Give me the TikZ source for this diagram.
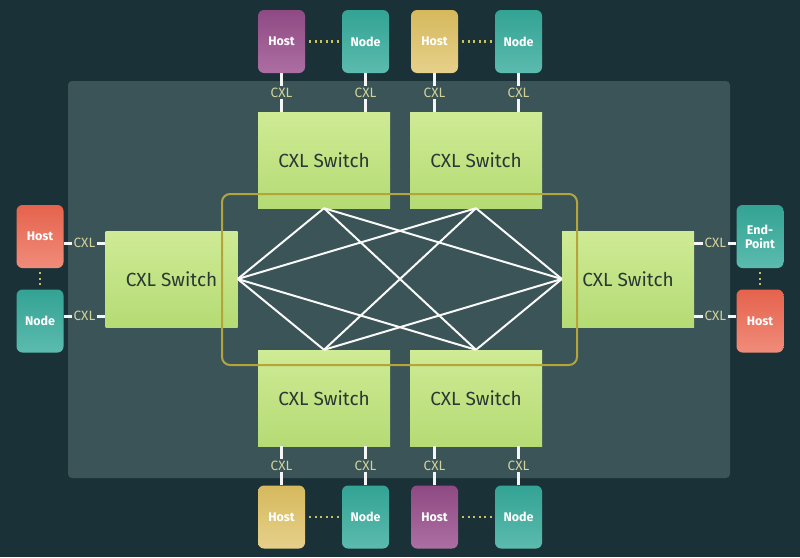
\documentclass[tikz,border=0pt]{standalone}
\usepackage{fontspec}
\setmainfont{Fira Sans}
\definecolor{bgc}{HTML}{1A3237}
\definecolor{panelc}{HTML}{3B5457}
\definecolor{swtop}{HTML}{CFEB95}
\definecolor{swbot}{HTML}{B5DB74}
\definecolor{swtext}{HTML}{2A3833}
\definecolor{framec}{HTML}{B4A43A}
\definecolor{cxltext}{HTML}{D3D29A}
\definecolor{dotc}{HTML}{C9C25E}
\definecolor{pTop}{HTML}{8F4A83}
\definecolor{pBot}{HTML}{AC6FA2}
\definecolor{tTop}{HTML}{33A394}
\definecolor{tBot}{HTML}{5BBBAE}
\definecolor{yTop}{HTML}{D6B95D}
\definecolor{yBot}{HTML}{E6D08A}
\definecolor{rTop}{HTML}{E5634D}
\definecolor{rBot}{HTML}{F08C7A}
\tikzset{
  sw/.style={rectangle, minimum width=132pt, minimum height=96pt, inner sep=0pt,
    top color=swtop, bottom color=swbot, draw=none, text=swtext,
    font=\fontsize{19}{21}\selectfont},
  hostbox/.style={rectangle, rounded corners=6pt, minimum width=47pt, minimum height=63pt,
    inner sep=0pt, text=white, align=center, font=\bfseries\fontsize{12.5}{14}\selectfont},
  hostP/.style={hostbox, top color=pTop, bottom color=pBot},
  hostY/.style={hostbox, top color=yTop, bottom color=yBot},
  hostR/.style={hostbox, top color=rTop, bottom color=rBot},
  nodeT/.style={hostbox, top color=tTop, bottom color=tBot},
  cxl/.style={draw=white!92!gray, line width=3pt},
  cxllab/.style={fill=panelc, inner sep=1.5pt, text=cxltext, font=\fontsize{13.5}{13.5}\selectfont},
  mesh/.style={draw=white!95!gray, line width=2pt},
  framebox/.style={draw=framec, line width=2pt, rounded corners=8pt},
  dotline/.style={draw=dotc, line width=2.2pt, dash pattern=on 2pt off 3.5pt, shorten <=4pt, shorten >=3pt},
}
\begin{document}
\begin{tikzpicture}[x=1pt,y=-1pt]
\useasboundingbox (0,0) rectangle (800,557);
\fill[bgc] (0,0) rectangle (800,557);
\fill[panelc, rounded corners=4pt] (68,81) rectangle (730,478);

% switches
\node[sw] (swT1) at (324,160) {CXL Switch};
\node[sw] (swT2) at (476,160) {CXL Switch};
\node[sw] (swB1) at (324,398) {CXL Switch};
\node[sw] (swB2) at (476,398) {CXL Switch};
\node[sw] (swL) at (171.5,279) {CXL Switch};
\node[sw] (swR) at (628,279) {CXL Switch};

% mesh
\foreach \a in {swT1.south,swT2.south,swB1.north,swB2.north}{
  \draw[mesh] (swL.east) -- (\a);
  \draw[mesh] (swR.west) -- (\a);
}
\draw[mesh] (swT1.south) -- (swB2.north);
\draw[mesh] (swT2.south) -- (swB1.north);

% frame
\draw[framebox] (222,194) rectangle (577,365);

% host boxes
\node[hostP] (tH1) at (281.5,41.5) {Host};
\node[nodeT] (tN1) at (365.5,41.5) {Node};
\node[hostY] (tH2) at (434.5,41.5) {Host};
\node[nodeT] (tN2) at (518.5,41.5) {Node};

\node[hostY] (bH1) at (281.5,517) {Host};
\node[nodeT] (bN1) at (365.5,517) {Node};
\node[hostP] (bH2) at (434.5,517) {Host};
\node[nodeT] (bN2) at (518.5,517) {Node};

\node[hostR] (lH) at (40,236.5) {Host};
\node[nodeT] (lN) at (40,321) {Node};
\node[nodeT] (rE) at (760,236.5) {End-\\Point};
\node[hostR] (rH) at (760,321) {Host};

% dotted links
\draw[dotline] (tH1) -- (tN1);
\draw[dotline] (tH2) -- (tN2);
\draw[dotline] (bH1) -- (bN1);
\draw[dotline] (bH2) -- (bN2);
\draw[dotline] (lH) -- (lN);
\draw[dotline] (rE) -- (rH);

% CXL links
\foreach \h/\s in {tH1/swT1,tN1/swT1,tH2/swT2,tN2/swT2}{
  \draw[cxl] (\h.south) -- node[cxllab]{CXL} (\h.south |- \s.north);
}
\foreach \h/\s in {bH1/swB1,bN1/swB1,bH2/swB2,bN2/swB2}{
  \draw[cxl] (\h.north) -- node[cxllab]{CXL} (\h.north |- \s.south);
}
\coordinate (yA) at (0,243);
\coordinate (yB) at (0,316);
\draw[cxl] (lH.east |- yA) -- node[cxllab]{CXL} (swL.west |- yA);
\draw[cxl] (lN.east |- yB) -- node[cxllab]{CXL} (swL.west |- yB);
\draw[cxl] (swR.east |- yA) -- node[cxllab]{CXL} (rE.west |- yA);
\draw[cxl] (swR.east |- yB) -- node[cxllab]{CXL} (rH.west |- yB);
\end{tikzpicture}
\end{document}
